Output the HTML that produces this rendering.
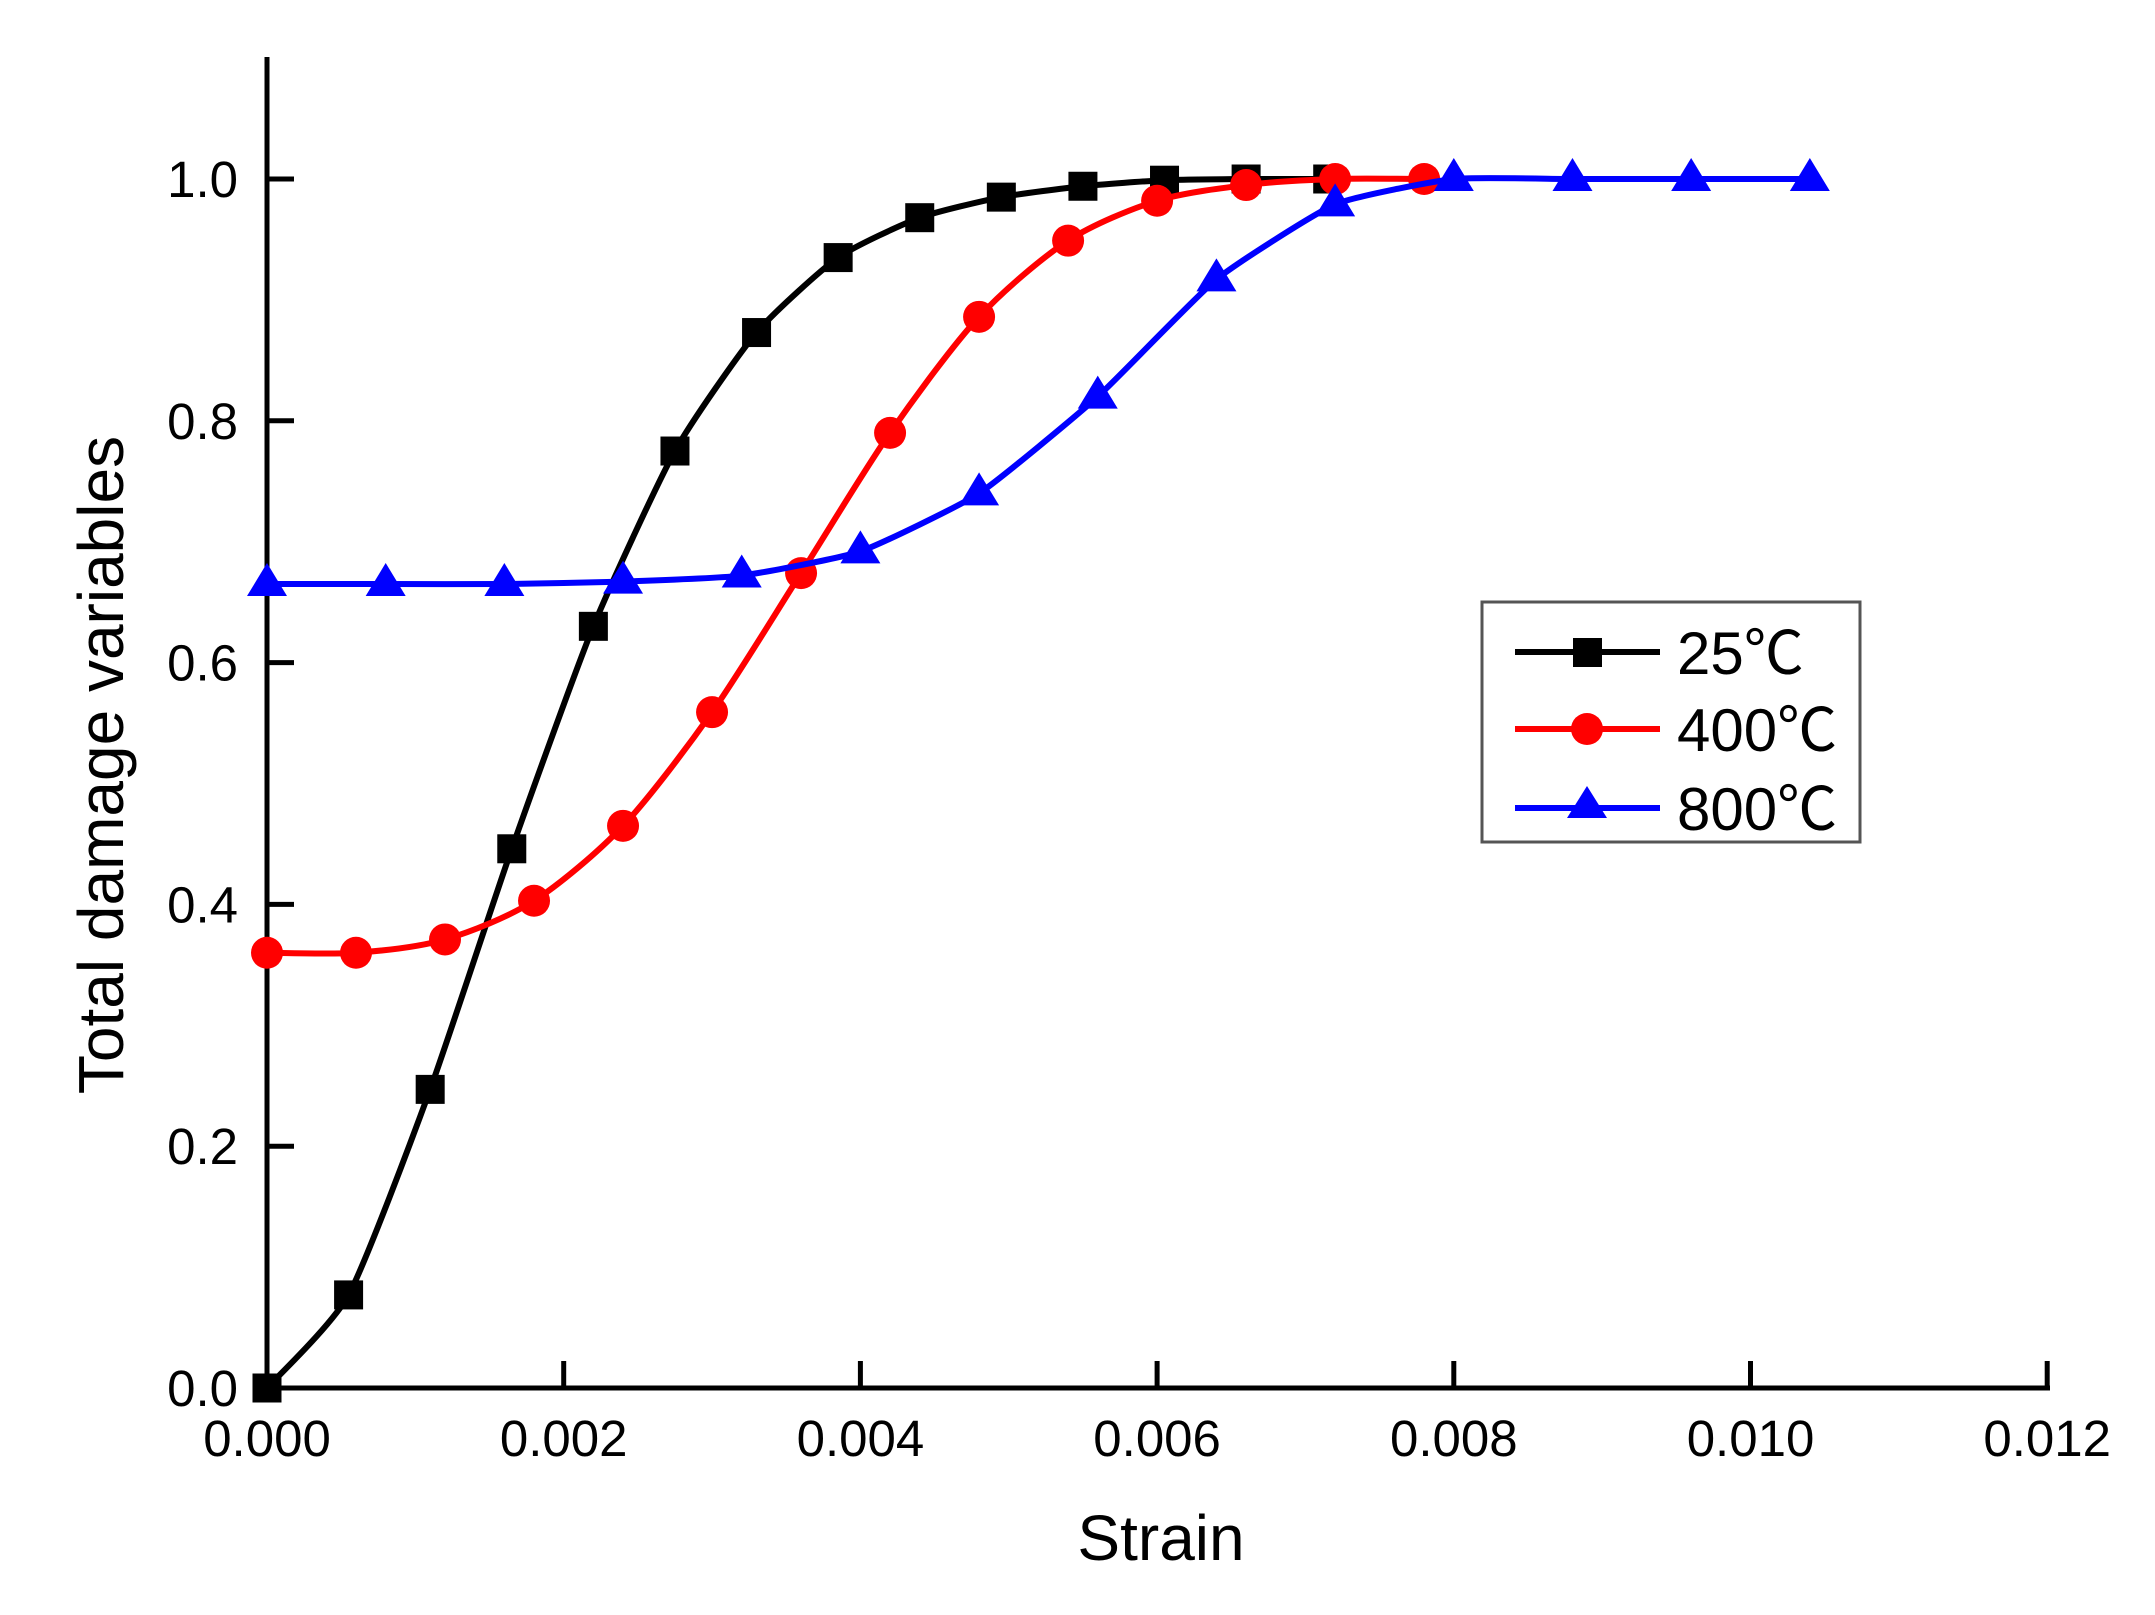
<!DOCTYPE html>
<html><head><meta charset="utf-8"><style>
html,body{margin:0;padding:0;background:#fff}
svg{display:block}
text{font-family:"Liberation Sans","Noto Sans CJK SC",sans-serif;fill:#000}
</style></head><body>
<svg id="c" width="2155" height="1615" viewBox="0 0 2155 1615" xmlns="http://www.w3.org/2000/svg">
<rect width="2155" height="1615" fill="#fff"/>
<g stroke="#000" stroke-width="5" fill="none">
<line x1="267" y1="57" x2="267" y2="1390"/>
<line x1="265" y1="1388" x2="2050" y2="1388"/>
</g>
<g id="ticks" stroke="#000" stroke-width="5"></g>
<g id="labels" font-size="51"></g>
<text x="1161" y="1560" font-size="64" text-anchor="middle">Strain</text>
<text transform="translate(123,765) rotate(-90)" font-size="64" text-anchor="middle">Total damage variables</text>
<g id="series"></g>
<rect x="1482" y="602" width="378" height="240" fill="#fff" stroke="#555" stroke-width="3"/>
<line x1="1515" y1="652" x2="1660" y2="652" stroke="#000" stroke-width="6"/>
<rect x="1573" y="638" width="29" height="29" fill="#000"/>
<text x="1677" y="674" font-size="60">25℃</text>
<line x1="1515" y1="729" x2="1660" y2="729" stroke="#f00" stroke-width="6"/>
<circle cx="1587" cy="729" r="16" fill="#f00"/>
<text x="1677" y="751" font-size="60">400℃</text>
<line x1="1515" y1="808" x2="1660" y2="808" stroke="#00f" stroke-width="6"/>
<polygon points="1587,786 1607,818 1567,818" fill="#00f"/>
<text x="1677" y="830" font-size="60">800℃</text>
</svg>
<script>
var NS="http://www.w3.org/2000/svg";
function X(v){return 267+v/0.002*296.7;}
function Y(v){return 1388-v*1209;}
function el(p,t,a,txt){var e=document.createElementNS(NS,t);for(var k in a)e.setAttribute(k,a[k]);if(txt)e.textContent=txt;p.appendChild(e);return e;}
var tk=document.getElementById('ticks'),lb=document.getElementById('labels');
for(var i=0;i<=6;i++){var x=X(i*0.002);if(i>0)el(tk,'line',{x1:x,y1:1388,x2:x,y2:1361});
el(lb,'text',{x:x,y:1456,'text-anchor':'middle'},(i*0.002).toFixed(3));}
for(var i=0;i<=5;i++){var y=Y(i*0.2);if(i>0)el(tk,'line',{x1:267,y1:y,x2:294,y2:y});
el(lb,'text',{x:238,y:y+18,'text-anchor':'end'},(i*0.2).toFixed(1));}
var s=document.getElementById('series');
var d1=[0,0.077,0.247,0.446,0.63,0.775,0.873,0.935,0.968,0.985,0.994,0.999,1,1];
var d2=[0.36,0.36,0.371,0.403,0.465,0.559,0.674,0.790,0.886,0.949,0.982,0.995,1,1];
var d3=[0.665,0.665,0.665,0.667,0.672,0.692,0.740,0.820,0.917,0.979,1,1,1,1];
function pts(d,dx){return d.map(function(v,i){return [X(i*dx),Y(v)];});}
function cr(p,t){var d='M'+p[0][0]+','+p[0][1];for(var i=0;i<p.length-1;i++){var a=p[i-1]||p[i],b=p[i],c=p[i+1],e=p[i+2]||c;
d+=' C'+(b[0]+(c[0]-a[0])*t)+','+(b[1]+(c[1]-a[1])*t)+' '+(c[0]-(e[0]-b[0])*t)+','+(c[1]-(e[1]-b[1])*t)+' '+c[0]+','+c[1];}return d;}
var S=[[pts(d1,0.00055),'#000','sq',0.1],[pts(d2,0.0006),'#f00','ci',0.14],[pts(d3,0.0008),'#00f','tr',0.08]];
S.forEach(function(s0){
 var p=s0[0];
 el(s,'path',{d:cr(p,s0[3]),fill:'none',stroke:s0[1],'stroke-width':6,'stroke-linejoin':'round'});
 p.forEach(function(q){
  if(s0[2]=='sq')el(s,'rect',{x:q[0]-14.5,y:q[1]-14.5,width:29,height:29,fill:s0[1]});
  else if(s0[2]=='ci')el(s,'circle',{cx:q[0],cy:q[1],r:16,fill:s0[1]});
  else el(s,'polygon',{points:(q[0])+','+(q[1]-21)+' '+(q[0]+20)+','+(q[1]+12)+' '+(q[0]-20)+','+(q[1]+12),fill:s0[1]});
 });
});
</script>
</body></html>
